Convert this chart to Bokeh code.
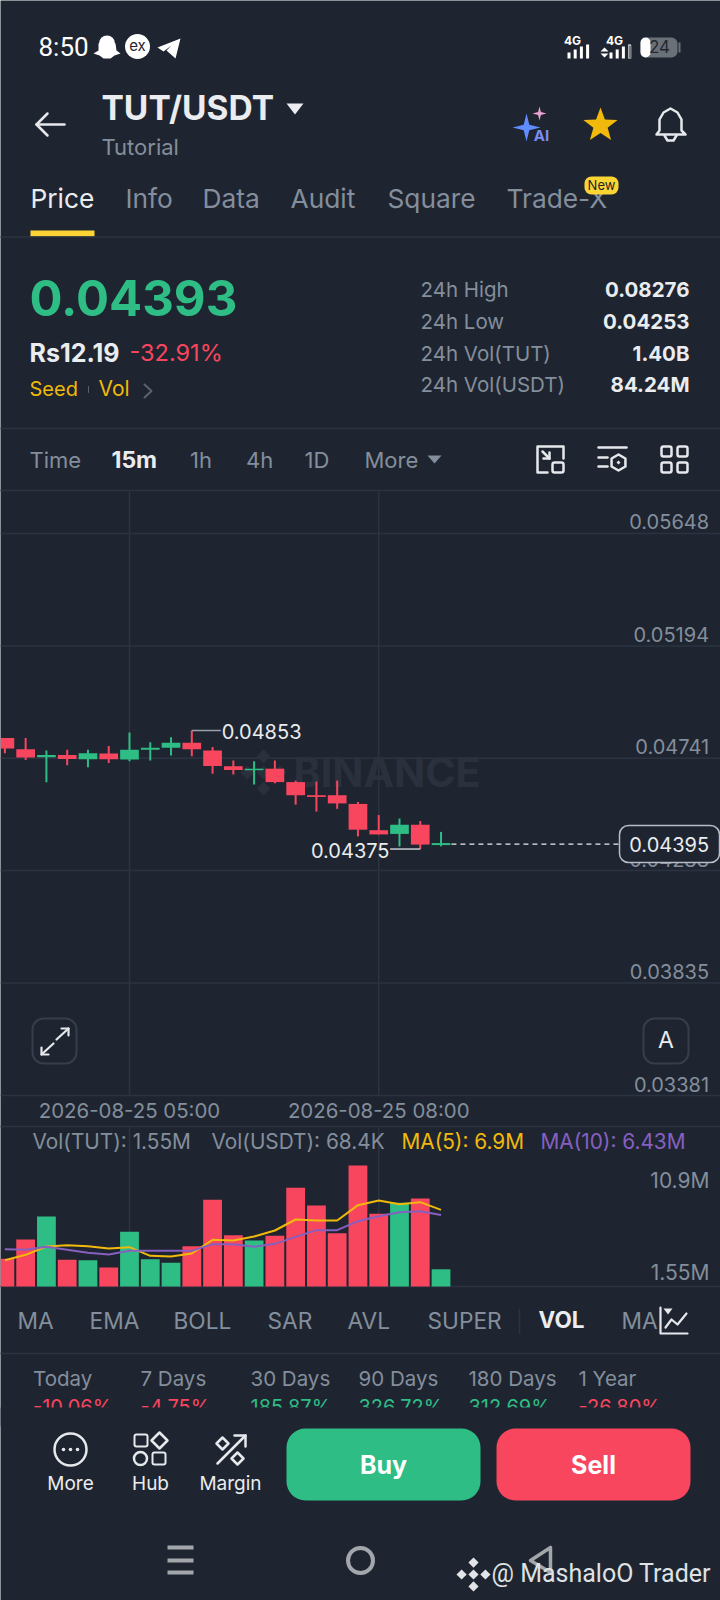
from bokeh.plotting import figure
from bokeh.models import Range1d
from bokeh.core.properties import value
from bokeh.embed import file_html
from bokeh.resources import INLINE
import math

# ---------- chart data ----------
highs = [.04823,.04823,.04772,.04775,.04775,.04791,.04845,.04806,.04826,.04853,.04787,
         .04732,.04729,.04732,.04651,.04647,.04651,.04565,.04512,.04498,.04488,.04444]
lows = [.04761,.04734,.04644,.04713,.04705,.04722,.04729,.04732,.04752,.04749,.04679,
        .04676,.04635,.04640,.04554,.04526,.04537,.04426,.04434,.04385,.04375,.04386]
opens = [.04823,.04777,.04745,.04754,.04737,.04760,.04736,.04775,.04783,.04804,.04772,
         .04709,.04693,.04699,.04645,.04592,.04592,.04557,.04451,.04436,.04473,.04391]
closes = [.04780,.04744,.04754,.04738,.04761,.04737,.04775,.04783,.04804,.04777,.04710,
          .04694,.04699,.04645,.04592,.04585,.04559,.04453,.04434,.04473,.04393,.04399]
price_ticks = [.05648,.05194,.04741,.04288,.03835,.03381]
price_labels = ["0.05648","0.05194","0.04741","0.04288","0.03835","0.03381"]
last_price = .04395
high_mark = .04853
low_mark = .04375
volumes = [2.49,4.23,6.30,2.40,2.37,1.71,4.92,2.46,2.13,3.63,7.80,4.62,4.14,4.56,8.88,7.29,
           4.80,10.89,6.54,7.53,7.92,1.55]
vol_sides = ["d","d","u","d","u","d","u","u","u","d","d","d","u","d","d","d","d","d","d","u","d","u"]
ma5 = [2.37,2.85,3.60,3.72,3.63,3.42,3.54,2.76,2.70,2.97,4.20,4.14,4.50,5.04,6.03,5.94,5.94,
       7.32,7.74,7.41,7.59,6.90]
ma10 = [3.36,3.30,3.57,3.30,3.03,2.88,3.21,3.21,3.21,3.21,3.81,3.81,3.57,3.84,4.47,5.07,5.07,
        5.88,6.33,6.69,6.78,6.43]
vol_labels = ["10.9M","1.55M"]
time_idx = [6,18]
time_labels = ["2026-08-25 05:00","2026-08-25 08:00"]

# ---------- style ----------
BG="#1e2530"; GRID="#2c3340"; GREY="#848e9c"; WHITE="#eaecef"; UP="#2ebd85"; DOWN="#f9465f"
YEL="#f0b90b"; YEL2="#fcd535"; PUR="#8660c0"; ICON="#e6e8eb"; NAV="#a3a6ab"
FONT="Inter"
X0,X1 = -.211,34.456
W,H = 720,1600
PRICE_PER_PX = (.05821-.03381)/605      # price panel: 490..1095 px
VOL_PER_PX = 14.4/160                   # volume panel: 1126..1286 px

p=figure(width=W,height=H,x_range=Range1d(0,W),y_range=Range1d(H,0),output_backend="svg",toolbar_location=None,
         background_fill_color=BG,border_fill_color=BG,outline_line_color=None,min_border=0,
         min_border_left=0,min_border_right=0,min_border_top=0,min_border_bottom=0)
p.xaxis.visible=False; p.yaxis.visible=False; p.xgrid.visible=False; p.ygrid.visible=False
p.extra_x_ranges["ix"]=Range1d(X0,X1)
p.extra_y_ranges["price"]=Range1d(.03381-(H-1095)*PRICE_PER_PX,.03381+1095*PRICE_PER_PX)
p.extra_y_ranges["vol"]=Range1d(-(H-1286)*VOL_PER_PX,1286*VOL_PER_PX)
PR=dict(x_range_name="ix",y_range_name="price")
VR=dict(x_range_name="ix",y_range_name="vol")

class D:
    def __init__(s,p):
        s.p=p
    def t(s,x,y,txt,size=20,color=GREY,align="left",bold=False,font=FONT):
        if align=="left": x-=1
        s.p.text(x=[x],y=[y-1],text=[txt],text_font=value(font),text_font_size=f"{size}px",text_color=color,
                 text_align=align,text_baseline="middle",text_font_style="bold" if bold else "normal")
    def l(s,xs,ys,color=ICON,w=2.5):
        s.p.line(x=xs,y=ys,line_color=color,line_width=w,line_cap="round",line_join="round")
    def f(s,xs,ys,color=ICON):
        s.p.patch(x=xs,y=ys,fill_color=color,line_color=None)
    def r(s,x0,x1,y0,y1,fill=None,line=None,w=2,rad=0):
        s.p.quad(left=[x0],right=[x1],top=[y0],bottom=[y1],fill_color=fill,fill_alpha=1 if fill else 0,
                 line_color=line,line_alpha=1 if line else 0,line_width=w,border_radius=rad)
    def c(s,x,y,r,fill=None,line=None,w=2.5):
        s.p.circle(x=[x],y=[y],radius=r,fill_color=fill,fill_alpha=1 if fill else 0,
                   line_color=line,line_alpha=1 if line else 0,line_width=w)
    def star(s,cx,cy,R,rr,n,color,rot=-math.pi/2):
        xs=[];ys=[]
        for i in range(2*n):
            a=rot+i*math.pi/n; q=R if i%2==0 else rr
            xs.append(cx+q*math.cos(a)); ys.append(cy+q*math.sin(a))
        s.f(xs,ys,color)
    def dia(s,cx,cy,q,color=None,line=None,w=2.5):
        xs=[cx,cx+q,cx,cx-q,cx]; ys=[cy-q,cy,cy+q,cy,cy-q]
        if color: s.f(xs,ys,color)
        if line: s.l(xs,ys,line,w)
    def logo(s,cx,cy,q,color):
        a=q*.30
        s.dia(cx,cy,a,color)
        for dx,dy in((q*.7,0),(-q*.7,0),(0,q*.7),(0,-q*.7)):
            s.dia(cx+dx,cy+dy,a,color)
d=D(p)

# ---------- header ----------
d.t(39,47,"8:50",26,"#ffffff",font="Roboto")
d.c(106.5,43,8,fill="#ffffff",line=None)
d.f([98,115,116,120,114,110,103,99,93,98],[43,43,50,53,55,58,58,55,53,50],"#ffffff")
d.c(137,46,12.5,fill="#ffffff",line=None)
d.t(137,46,"ex",15,"#1e2530","center")
d.f([157,180,175,166,171,163],[47,38,58,50,45,51],"#ffffff")
for ox in (567,609):
    for i,hh in enumerate((6,9,12,14)):
        d.r(ox+i*6.2,ox+i*6.2+3,58-hh,58,fill="#ffffff")
d.t(572,41,"4G",12,"#ffffff","center",True)
d.t(614,41,"4G",12,"#ffffff","center",True)
d.f([600,604,608],[51,47,51],"#ffffff"); d.f([600,604,608],[53,57,53],"#ffffff")
d.r(628,631,45,58,fill="#777b82")
d.r(640,677,37,57,fill="#6a7078",rad=6)
d.r(640,650,37,57,fill="#ffffff",rad=6)
d.t(659,47,"24",17,"#23282f","center")
d.r(678,680,42,52,fill="#6a7078")
# title row
d.l([64,36],[124,124],ICON,2.5); d.l([47,36,47],[113,124,135],ICON,2.5)
d.t(102,108,"TUT/USDT",33.5,WHITE,bold=True)
d.f([286,303,294.5],[103,103,114],WHITE)
d.t(102,147,"Tutorial",22,GREY)
d.star(526,127,14,4,4,"#5f8cff"); d.star(539,113,7,2,4,"#e7a2cf")
d.t(541,136,"AI",15,"#7c8cf5","center",True)
d.star(600,125,18,7.5,5,YEL)
d.l([656,659,659,663,670,677,681,681,685,656],[134,130,119,112,108,112,119,130,134,134],ICON,2.5)
d.l([664,667,673,676],[135,140,140,135],ICON,2.5)
# tabs
d.t(31,199,"Price",26.3,WHITE)
for x,s_ in zip((126,203,291,388,507),("Info","Data","Audit","Square","Trade-X")):
    d.t(x,199,s_,26.3,GREY)
d.r(584,618,176,194,fill=YEL2,rad=7)
d.t(601,185,"New",13,"#1e2329","center")
d.r(30,94,230,236,fill=YEL2)
d.l([0,720],[236.5,236.5],GRID,1.5)
# quote block
d.t(30,298,"0.04393",49,UP,bold=True)
d.t(30,353,"Rs12.19",25,WHITE,bold=True)
d.t(130,353,"-32.91%",23.5,DOWN)
d.t(30,389,"Seed",20,YEL)
d.l([88,88],[386,392],"#5a6270",1)
d.t(99,389,"Vol",21,YEL)
d.l([144,151,144],[384,390.5,397],"#5a6270",2)
for y,a,b in ((290,"24h High","0.08276"),(322,"24h Low","0.04253"),(354,"24h Vol(TUT)","1.40B"),(385,"24h Vol(USDT)","84.24M")):
    d.t(421,y,a,20.5,GREY); d.t(689,y,b,20.5,WHITE,"right",True)
d.l([0,720],[428,428],GRID,1.5)
# interval row
for x,s_ in zip((30,190.5,246.5,305,365),("Time","1h","4h","1D","More")):
    d.t(x,460,s_,22,GREY)
d.t(112,460,"15m",23,WHITE,bold=True)
d.f([427,441,434],[455,455,463],GREY)
d.l([547,537,537,563,563],[472,472,446,446,458]); d.r(552,563,462,472,line=ICON,w=2.5,rad=2)
d.l([542,549],[451,458]); d.l([543,549,549],[458,458,452])
d.l([598,626],[447,447]); d.l([598,607],[457,457]); d.l([598,607],[466,466])
hx=[618+8*math.cos(math.pi/6+i*math.pi/3) for i in range(7)]; hy=[462+8*math.sin(math.pi/6+i*math.pi/3) for i in range(7)]
d.l(hx,hy); d.dia(618,462,2,ICON)
for a,b in ((661,446),(677,446),(661,462),(677,462)):
    d.r(a,a+10,b,b+10,line=ICON,w=2.5,rad=2)
d.l([0,720],[490,490],GRID,1.5)

# ---------- price panel ----------
n=len(price_ticks)
p.segment(x0=[0]*n,x1=[W]*n,y0=price_ticks,y1=price_ticks,line_color=GRID,line_width=1.5,y_range_name="price")
p.segment(x0=time_idx,x1=time_idx,y0=[490]*2,y1=[1095]*2,line_color=GRID,line_width=1.5,x_range_name="ix")
p.text(x=time_idx,y=[1110,1110],text=time_labels,text_font=value(FONT),text_font_size="20.4px",text_color=GREY,
       text_align="center",text_baseline="middle",x_range_name="ix")
# watermark
d.logo(263,772,23,"#2a313d")
d.t(294,772,"BINANCE",41,"#2a313d",bold=True)
# candles
idx=list(range(len(opens)))
cols=[UP if c>=o else DOWN for o,c in zip(opens,closes)]
p.segment(x0=idx,x1=idx,y0=lows,y1=highs,line_color=cols,line_width=2,**PR)
p.vbar(x=idx,width=.9,top=[max(o,c) for o,c in zip(opens,closes)],bottom=[min(o,c) for o,c in zip(opens,closes)],
       fill_color=cols,line_color=None,**PR)
# axis labels
p.text(x=[X1-.55]*n,y=price_ticks,text=price_labels,text_font=value(FONT),text_font_size="20px",text_color=GREY,
       text_align="right",text_baseline="middle",y_offset=-11.5,**PR)
# marks
p.line(x=[9,10.4],y=[high_mark,high_mark],line_color="#9aa0a8",line_width=1.5,**PR)
p.text(x=[10.44],y=[high_mark],text=["0.04853"],text_font=value(FONT),text_font_size="20px",text_color=WHITE,
       text_baseline="middle",y_offset=1,**PR)
p.line(x=[20,18.55],y=[low_mark,low_mark],line_color="#c8ccd2",line_width=1.5,**PR)
p.text(x=[18.52],y=[low_mark],text=["0.04375"],text_font=value(FONT),text_font_size="20px",text_color=WHITE,
       text_baseline="middle",text_align="right",y_offset=1,**PR)
p.line(x=[21.5,29.6],y=[last_price,last_price],line_color=WHITE,line_width=1.2,line_dash="5 4",**PR)
d.r(619,719,825,862,fill=BG,line="#b8bdc5",w=1.5,rad=9)
p.text(x=[X1-.55],y=[last_price],text=["0.04395"],text_font=value(FONT),text_font_size="20px",text_color=WHITE,
       text_align="right",text_baseline="middle",**PR)
# buttons
d.r(32,76,1018,1063,line="#363e4c",w=2,rad=11)
d.l([56,68],[1039,1028],ICON,2.2); d.l([61,68,68],[1028,1028,1035],ICON,2.2)
d.l([53,41],[1043,1054],ICON,2.2); d.l([41,41,48],[1047,1054,1054],ICON,2.2)
d.r(643,688,1018,1063,line="#363e4c",w=2,rad=11)
d.t(665.5,1040,"A",23,WHITE,"center")

# ---------- volume panel ----------
p.segment(x0=time_idx,x1=time_idx,y0=[1126]*2,y1=[1286]*2,line_color=GRID,line_width=1.5,x_range_name="ix")
d.l([0,720],[1126,1126],GRID,1.5)
d.l([0,720],[1286,1286],GRID,1.5)
vc=[UP if s_=="u" else DOWN for s_ in vol_sides]
p.vbar(x=idx,width=.905,top=volumes,bottom=0,fill_color=vc,line_color=None,**VR)
p.line(x=idx,y=ma5,line_color=YEL,line_width=2,**VR)
p.line(x=idx,y=ma10,line_color=PUR,line_width=2,**VR)
d.t(709,1181,vol_labels[0],21,GREY,"right")
d.t(709,1273,vol_labels[1],21,GREY,"right")
d.t(33,1142,"Vol(TUT): 1.55M",20.8,GREY)
d.t(212,1142,"Vol(USDT): 68.4K",20.8,GREY)
d.t(402,1142,"MA(5): 6.9M",20.8,YEL)
d.t(541,1142,"MA(10): 6.43M",20.8,PUR)

# ---------- footer ----------
for x,s_ in zip((18,90,174,268,348,428,622),("MA","EMA","BOLL","SAR","AVL","SUPER","MA")):
    d.t(x,1321,s_,22.7,GREY)
d.l([519,519],[1309,1333],GRID,1.5)
d.t(539,1320,"VOL",22.5,WHITE,bold=True)
d.l([660,660,687],[1307,1333,1333],ICON,2.2)
d.l([665,671,677,686],[1327,1319,1324,1313],ICON,2.2)
d.f([663,672,667.5],[1308,1308,1314],ICON)
d.l([0,720],[1353,1353],GRID,1.5)
for x,s_ in zip((33.5,141,251,359,469,579),("Today","7 Days","30 Days","90 Days","180 Days","1 Year")):
    d.t(x,1379,s_,20.5,GREY)
for x,s_,c_ in zip((33.5,141,251,359,469,579),("-10.06%","-4.75%","185.87%","326.72%","312.69%","-26.80%"),
                   (DOWN,DOWN,UP,UP,UP,DOWN)):
    d.t(x,1407,s_,20,c_)
d.r(0,720,1407,1426,fill=BG)
# actions
d.c(70,1449,16,line=ICON)
for x in (63,70,77): d.c(x,1449,1.8,fill=ICON)
d.t(70,1484,"More",19,WHITE,"center")
d.r(134,147,1434,1446,line=ICON,rad=2); d.dia(159,1440,8,line=ICON)
d.c(140,1458,6.5,line=ICON); d.r(152,165,1452,1464,line=ICON,rad=2)
d.t(150,1484,"Hub",19,WHITE,"center")
d.l([217,245],[1463,1435]); d.l([234,245,245],[1435,1435,1446])
d.dia(222,1443,6,line=ICON); d.dia(237,1458,6,line=ICON)
d.t(230,1484,"Margin",19,WHITE,"center")
d.r(286,480,1428,1500,fill=UP,rad=19)
d.t(383,1465,"Buy",25,"#ffffff","center",True)
d.r(496,690,1428,1500,fill=DOWN,rad=19)
d.t(593,1465,"Sell",25,"#ffffff","center",True)
# nav bar
for y in (1547,1560,1572): d.r(167,193,y-2,y+2,fill=NAV)
d.c(360,1560,12.5,line=NAV,w=4)
d.l([550,530,550,550],[1547,1560,1572,1547],NAV,3.5)
d.logo(473,1574,17,"#e2e4e7")
d.t(492,1574,"@ MashaloO Trader",25,"#dfe1e4",font="Roboto")

open("out.html","w").write(file_html(p,INLINE))
